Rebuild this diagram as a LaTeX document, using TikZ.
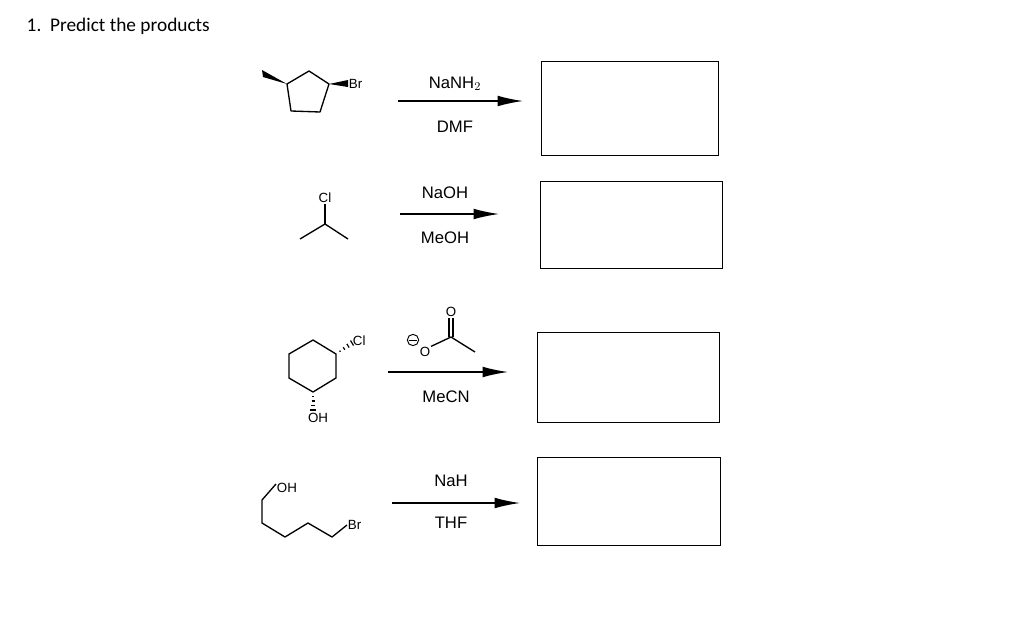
\documentclass[tikz,border=0pt]{standalone}
\usepackage{fontspec}
\setmainfont{Liberation Sans}
\newfontfamily\titlefont{Carlito}
\usetikzlibrary{arrows.meta,calc}
\begin{document}
\begin{tikzpicture}[x=0.75pt,y=-0.75pt,
  bond/.style={line width=1pt,line join=round},
  rxn/.style={line width=1pt,-{Latex[length=19pt,width=8pt]}},
  cond/.style={font=\fontsize{12.5}{14}\selectfont,inner sep=0pt},
  atom/.style={font=\fontsize{10}{12}\selectfont,inner sep=0.5pt},
  box/.style={draw,line width=1pt}]
\useasboundingbox (0,0) rectangle (1024,621);
\node[anchor=west,font=\titlefont\fontsize{14.5}{16}\selectfont] (title) at (22,26) {1.\ \ Predict the products};
% molecule 1
\coordinate (a1) at (287,84); \coordinate (a2) at (309,71); \coordinate (a3) at (329,84);
\coordinate (a4) at (320,112); \coordinate (a5) at (291,111);
\draw[bond] (a1)--(a2)--(a3)--(a4)--(a5)--cycle;
\fill (a1) -- (262,70) -- (263,77) -- cycle;
\fill (a3) -- (348,80) -- (348,87) -- cycle;
\node[atom,anchor=west] (br1) at (348,84) {Br};
\draw[rxn] (398,101) coordinate (s1) -- (523,101) coordinate (e1);
\node[cond] (c1a) at (455,84) {NaNH$_2$};
\node[cond] (c1b) at (455,127) {DMF};
\node[box,minimum width=132.75pt,minimum height=70.5pt,anchor=north west] (b1) at (541,61) {};
% molecule 2
\node[atom] (cl2) at (325,198) {Cl};
\coordinate (m2) at (325,224);
\draw[bond] (cl2.south) -- (m2);
\draw[bond] (300,239) -- (m2) -- (348,239);
\draw[rxn] (400,214) -- (499,214);
\node[cond] (c2a) at (445,193) {NaOH};
\node[cond] (c2b) at (445,238) {MeOH};
\node[box,minimum width=136.5pt,minimum height=65.25pt,anchor=north west] (b2) at (540,181) {};
% molecule 3
\coordinate (h1) at (313,340); \coordinate (h2) at (336,354); \coordinate (h3) at (336,378);
\coordinate (h4) at (313,392); \coordinate (h5) at (289,378); \coordinate (h6) at (289,354);
\draw[bond] (h1)--(h2)--(h3)--(h4)--(h5)--(h6)--cycle;
\foreach \t in {0.25,0.5,0.75,1.0}{
  \draw[line width=0.9pt] ($(h2)!\t!(352,343)+(-1.5*\t,-2.5*\t)$) -- ($(h2)!\t!(352,343)+(1.5*\t,2.5*\t)$);}
\node[atom,anchor=west] (cl3) at (352,341) {Cl};
\foreach \t in {0.25,0.5,0.75,1.0}{
  \draw[line width=0.9pt] ($(h4)!\t!(313,410)+(-3*\t,0)$) -- ($(h4)!\t!(313,410)+(3*\t,0)$);}
\node[atom,anchor=north] (oh3) at (318,412) {OH};
% acetate
\node[atom] (o3) at (425,352) {O};
\node[draw,circle,inner sep=0pt,minimum size=8.5pt,line width=0.7pt] (neg) at (413,340) {};
\draw[line width=0.7pt] ($(neg.west)+(1.5pt,0)$) -- ($(neg.east)+(-1.5pt,0)$);
\coordinate (ac) at (451,337);
\draw[bond] (o3.north east) -- (ac) -- (475,352);
\node[atom] (o4) at (451,312) {O};
\draw[bond] ($(ac)+(-2,0)$) -- ($(o4.south)+(-2,0)$);
\draw[bond] ($(ac)+(2,0)$) -- ($(o4.south)+(2,0)$);
\draw[rxn] (388,372) -- (508,372);
\node[cond] (c3b) at (446,397) {MeCN};
\node[box,minimum width=136.5pt,minimum height=67.5pt,anchor=north west] (b3) at (537,332) {};
% molecule 4
\node[atom,anchor=west] (oh4) at (276,488) {OH};
\node[atom,anchor=west] (br4) at (347,525) {Br};
\draw[bond] ($(oh4.west)+(0,3pt)$) -- (262,500) -- (262,523) -- (285,537) -- (308,523) -- (332,537) -- (br4.west);
\draw[rxn] (392,503) -- (520,503);
\node[cond] (c4a) at (451,481) {NaH};
\node[cond] (c4b) at (451,523) {THF};
\node[box,minimum width=137.25pt,minimum height=66pt,anchor=north west] (b4) at (537,457) {};
\end{tikzpicture}
\end{document}
